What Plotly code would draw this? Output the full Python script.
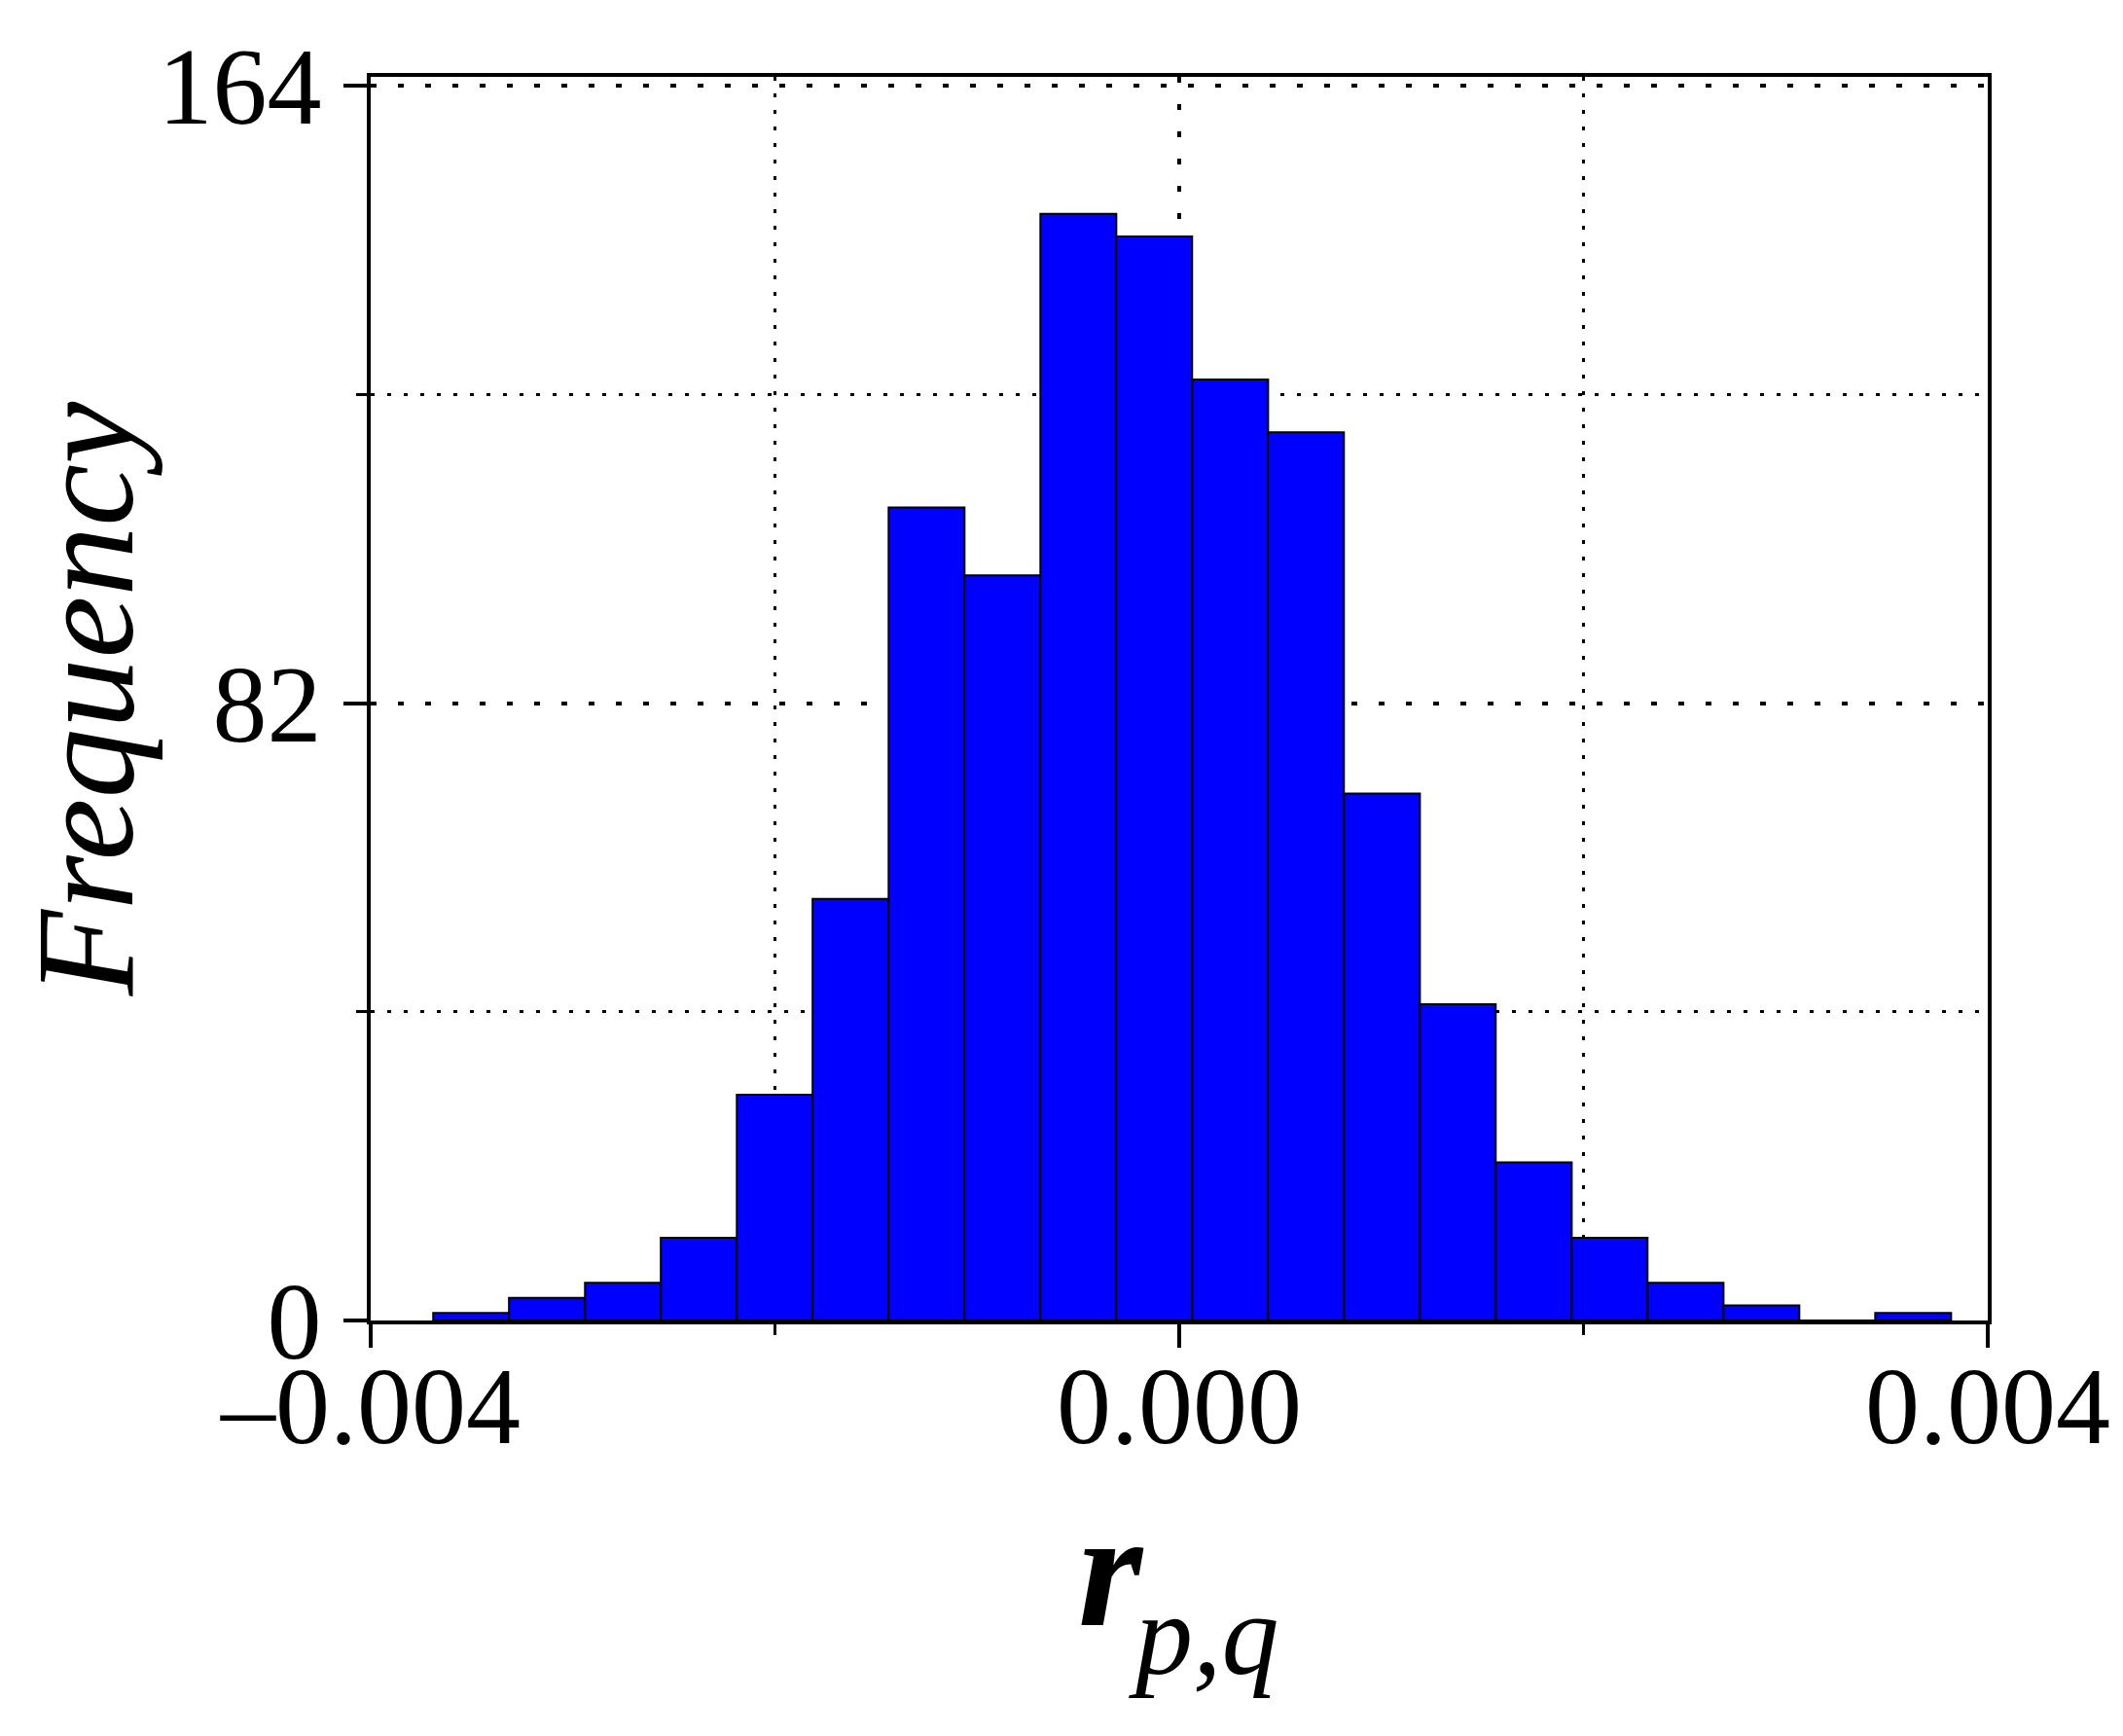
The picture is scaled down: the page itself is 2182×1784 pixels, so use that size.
import plotly.graph_objects as go

# histogram of r_{p,q}, 20 bins
bin_centers = [-0.003503, -0.003128, -0.002752, -0.002377, -0.002001,
               -0.001626, -0.001250, -0.000875, -0.000499, -0.000124,
               0.000252, 0.000627, 0.001003, 0.001378, 0.001754,
               0.002129, 0.002505, 0.002880, 0.003256, 0.003631]
bin_width = 0.0003755
counts = [1, 3, 5, 11, 30, 56, 108, 99, 147, 144,
          125, 118, 70, 42, 21, 11, 5, 2, 0, 1]

x_ticks = [-0.004, 0.0, 0.004]
x_ticktext = ["–0.004", "0.000", "0.004"]
x_minor = [-0.002, 0.002]
y_ticks = [0, 82, 164]
y_ticktext = ["0", "82", "164"]
y_minor = [41, 123]

FONT = "Liberation Serif"

fig = go.Figure()
fig.add_trace(go.Bar(x=bin_centers, y=counts, width=bin_width,
                     marker=dict(color="#0000FF", line=dict(color="black", width=2)),
                     showlegend=False))

axis_common = dict(
    showline=True, linewidth=4, linecolor="black", mirror=True,
    zeroline=False, ticks="outside", ticklen=24, tickwidth=4, tickcolor="black",
    showgrid=True, gridcolor="black", gridwidth=4, griddash="6px,22px",
    tickfont=dict(family=FONT, size=112, color="black"),
    automargin=False,
)
minor_common = dict(tickmode="array", ticks="outside", ticklen=11, tickwidth=3,
                    tickcolor="black", showgrid=True, gridcolor="black",
                    gridwidth=2.5, griddash="4px,13px")

fig.update_xaxes(
    range=[-0.004, 0.004], tickmode="array", tickvals=x_ticks, ticktext=x_ticktext,
    minor=dict(tickvals=x_minor, **minor_common),
    ticklabelstandoff=-36,
    **axis_common)

fig.update_yaxes(
    range=[0, 165.2], tickmode="array", tickvals=y_ticks, ticktext=y_ticktext,
    minor=dict(tickvals=y_minor, **minor_common),
    title=dict(text="<i>Frequency</i>", standoff=22,
               font=dict(family=FONT, size=144, color="black")),
    **axis_common)

# x title: bold italic r with a lowered italic subscript
fig.add_annotation(text="<b><i>r</i></b>", xref="paper", yref="paper",
                   x=0.4576, y=-0.200, xanchor="center", yanchor="middle",
                   showarrow=False, font=dict(family=FONT, size=170, color="black"))
fig.add_annotation(text="<i>p,q</i>", xref="paper", yref="paper",
                   x=0.5153, y=-0.253, xanchor="center", yanchor="middle",
                   showarrow=False, font=dict(family=FONT, size=118, color="black"))

# page body has an 8px margin, so the figure is sized to sit inside it
fig.update_layout(
    template="none",
    width=2166, height=1768, autosize=False,
    margin=dict(l=373, r=131, t=71, b=419, pad=0),
    plot_bgcolor="white", paper_bgcolor="white",
    font=dict(family=FONT, color="black"),
)

fig.write_html("out.html")
